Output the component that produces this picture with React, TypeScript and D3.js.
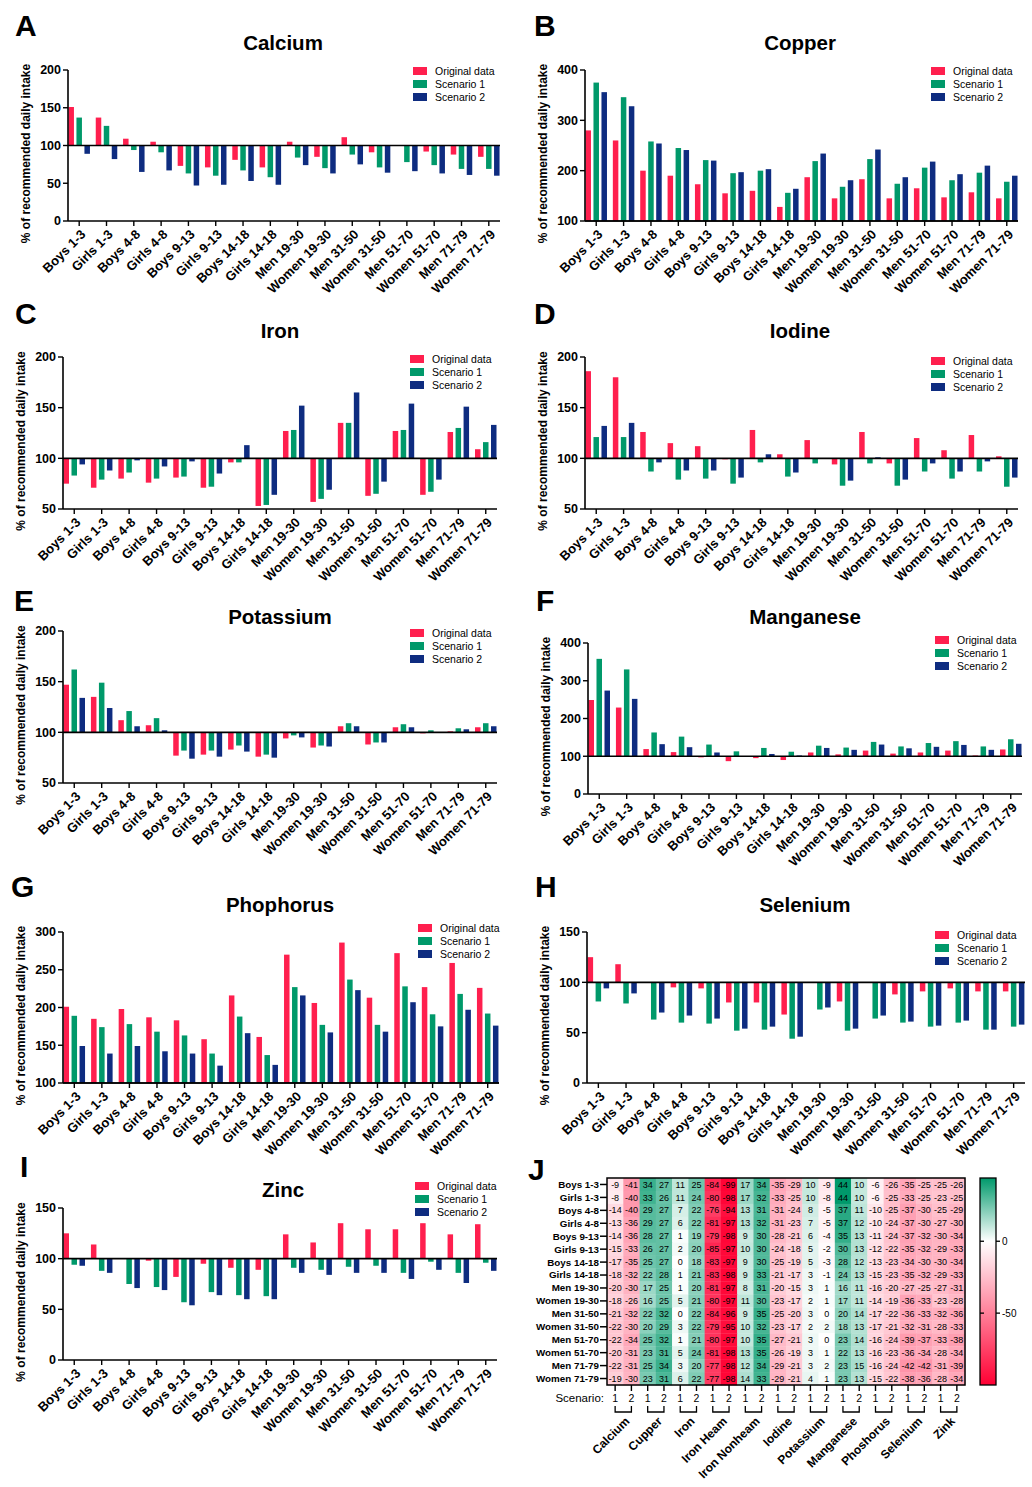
import React from "react";
import * as d3 from "d3";

const groups = [
  "Boys 1-3", "Girls 1-3", "Boys 4-8", "Girls 4-8", "Boys 9-13", "Girls 9-13",
  "Boys 14-18", "Girls 14-18", "Men 19-30", "Women 19-30", "Men 31-50", "Women 31-50",
  "Men 51-70", "Women 51-70", "Men 71-79", "Women 71-79",
];
const seriesNames = ["Original data", "Scenario 1", "Scenario 2"];
const seriesColors = ["#ff1f4e", "#00996a", "#0e2c80"];

const calciumOrig = [151, 137, 109, 105, 73, 71, 81, 71, 105, 85, 111, 91, 100, 92, 88, 85];
const calciumS1 = [137, 126, 94, 91, 63, 60, 67, 58, 84, 70, 88, 71, 78, 74, 69, 69];
const calciumS2 = [89, 82, 65, 67, 47, 48, 53, 48, 74, 63, 75, 64, 66, 63, 61, 60];

const copperOrig = [280, 260, 200, 190, 173, 155, 160, 128, 187, 145, 183, 145, 165, 147, 157, 145];
const copperS1 = [375, 346, 258, 245, 221, 195, 200, 156, 219, 168, 223, 174, 206, 181, 196, 178];
const copperS2 = [356, 328, 254, 241, 220, 197, 203, 164, 234, 181, 242, 187, 218, 193, 210, 190];

const ironOrig = [75, 71, 80, 76, 81, 71, 96, 53, 127, 57, 135, 63, 127, 64, 126, 109];
const ironS1 = [83, 79, 86, 80, 82, 72, 96, 54, 128, 60, 135, 65, 128, 67, 130, 116];
const ironS2 = [94, 88, 98, 92, 97, 85, 113, 64, 152, 69, 165, 77, 154, 79, 151, 133];

const iodineOrig = [186, 180, 126, 115, 112, 99, 128, 104, 118, 94, 126, 95, 120, 108, 123, 102];
const iodineS1 = [121, 121, 87, 79, 80, 75, 96, 82, 95, 73, 95, 73, 87, 80, 87, 72];
const iodineS2 = [132, 135, 96, 88, 88, 81, 104, 86, 100, 78, 101, 79, 95, 87, 97, 81];

const potassiumOrig = [147, 135, 112, 107, 77, 78, 83, 76, 94, 85, 106, 88, 105, 99, 101, 105];
const potassiumS1 = [162, 149, 121, 114, 82, 82, 87, 78, 97, 87, 109, 90, 108, 102, 104, 109];
const potassiumS2 = [134, 124, 106, 102, 74, 76, 81, 75, 95, 86, 106, 90, 105, 100, 103, 106];

const manganeseOrig = [249, 229, 119, 111, 97, 87, 95, 90, 110, 105, 115, 107, 110, 115, 102, 118];
const manganeseS1 = [358, 330, 163, 152, 131, 113, 122, 112, 128, 123, 138, 126, 135, 140, 126, 145];
const manganeseS2 = [274, 252, 132, 124, 110, 98, 106, 102, 122, 117, 131, 121, 125, 130, 117, 133];

const phosphorusOrig = [201, 185, 198, 187, 183, 158, 216, 161, 270, 206, 286, 213, 272, 227, 259, 226];
const phosphorusS1 = [189, 174, 178, 168, 163, 139, 188, 137, 227, 177, 237, 177, 228, 191, 218, 192];
const phosphorusS2 = [149, 139, 149, 142, 139, 123, 166, 124, 216, 167, 223, 168, 207, 175, 197, 176];

const seleniumOrig = [125, 118, 100, 95, 94, 80, 80, 68, 100, 81, 100, 88, 91, 94, 91, 91];
const seleniumS1 = [81, 79, 63, 60, 59, 52, 53, 44, 73, 52, 64, 60, 56, 60, 53, 56];
const seleniumS2 = [94, 89, 70, 67, 64, 54, 56, 46, 75, 54, 67, 61, 57, 62, 53, 58];

const zincOrig = [125, 114, 100, 98, 82, 95, 91, 89, 124, 116, 135, 129, 129, 135, 124, 134];
const zincS1 = [94, 88, 75, 72, 57, 67, 64, 63, 91, 89, 92, 93, 86, 97, 86, 96];
const zincS2 = [93, 86, 71, 69, 54, 64, 60, 60, 86, 84, 86, 86, 80, 89, 76, 88];

// heatmap J: % change vs original, columns = nutrient x scenario (1, 2)
const heatNutrients = [
  "Calcium", "Cupper", "Iron", "Iron Heam", "Iron Nonheam", "Iodine",
  "Potassium", "Manganese", "Phoshorus", "Selenium", "Zink",
];
const heatValues = [
  [-9, -41, 34, 27, 11, 25, -84, -99, 17, 34, -35, -29, 10, -9, 44, 10, -6, -26, -35, -25, -25, -26],
  [-8, -40, 33, 26, 11, 24, -80, -98, 17, 32, -33, -25, 10, -8, 44, 10, -6, -25, -33, -25, -23, -25],
  [-14, -40, 29, 27, 7, 22, -76, -94, 13, 31, -31, -24, 8, -5, 37, 11, -10, -25, -37, -30, -25, -29],
  [-13, -36, 29, 27, 6, 22, -81, -97, 13, 32, -31, -23, 7, -5, 37, 12, -10, -24, -37, -30, -27, -30],
  [-14, -36, 28, 27, 1, 19, -79, -98, 9, 30, -28, -21, 6, -4, 35, 13, -11, -24, -37, -32, -30, -34],
  [-15, -33, 26, 27, 2, 20, -85, -97, 10, 30, -24, -18, 5, -2, 30, 13, -12, -22, -35, -32, -29, -33],
  [-17, -35, 25, 27, 0, 18, -83, -97, 9, 30, -25, -19, 5, -3, 28, 12, -13, -23, -34, -30, -30, -34],
  [-18, -32, 22, 28, 1, 21, -83, -98, 9, 33, -21, -17, 3, -1, 24, 13, -15, -23, -35, -32, -29, -33],
  [-20, -30, 17, 25, 1, 20, -81, -97, 8, 31, -20, -15, 3, 1, 16, 11, -16, -20, -27, -25, -27, -31],
  [-18, -26, 16, 25, 5, 21, -80, -97, 11, 30, -23, -17, 2, 1, 17, 11, -14, -19, -36, -33, -23, -28],
  [-21, -32, 22, 32, 0, 22, -84, -96, 9, 35, -25, -20, 3, 0, 20, 14, -17, -22, -36, -33, -32, -36],
  [-22, -30, 20, 29, 3, 22, -79, -95, 10, 32, -23, -17, 2, 2, 18, 13, -17, -21, -32, -31, -28, -33],
  [-22, -34, 25, 32, 1, 21, -80, -97, 10, 35, -27, -21, 3, 0, 23, 14, -16, -24, -39, -37, -33, -38],
  [-20, -31, 23, 31, 5, 24, -81, -98, 13, 35, -26, -19, 3, 1, 22, 13, -16, -23, -36, -34, -28, -34],
  [-22, -31, 25, 34, 3, 20, -77, -98, 12, 34, -29, -21, 3, 2, 23, 15, -16, -24, -42, -42, -31, -39],
  [-19, -30, 23, 31, 6, 22, -77, -98, 14, 33, -29, -21, 4, 1, 23, 13, -15, -22, -38, -36, -28, -34],
];
const colorTicks = [0, -50];

const FONT = "'Liberation Sans', Arial, Helvetica, sans-serif";

type PanelProps = {
  letter: string;
  letterX: number;
  letterY: number;
  title: string;
  titleX: number;
  titleY: number;
  left: number;
  right: number;
  top: number;
  bottom: number;
  domain: [number, number];
  ticks: number[];
  legendX: number;
  legendY: number;
  series: number[][];
};

function BarPanel(p: PanelProps) {
  const x = d3.scalePoint<string>().domain(groups).range([p.left, p.right]).padding(0.41);
  const y = d3.scaleLinear().domain(p.domain).range([p.bottom, p.top]);
  const bw = 5.5;
  const step = 8;
  const base = y(100);
  return (
    <g>
      <text x={p.letterX} y={p.letterY} fontSize={30} fontWeight="bold" fontFamily={FONT}>{p.letter}</text>
      <text x={p.titleX} y={p.titleY} fontSize={20.5} fontWeight="bold" textAnchor="middle" fontFamily={FONT}>{p.title}</text>
      {p.series.map((vals, si) => (
        <g key={si} fill={seriesColors[si]}>
          {vals.map((v, i) => {
            const cx = x(groups[i])!;
            const bx = cx - bw / 2 + (si - 1) * step;
            const yv = y(v);
            return <rect key={i} x={bx} y={Math.min(yv, base)} width={bw} height={Math.abs(yv - base)} />;
          })}
        </g>
      ))}
      {/* reference line at 100 */}
      <line x1={p.left} x2={p.right} y1={base} y2={base} stroke="#000" strokeWidth={1.6} />
      {/* axes */}
      <line x1={p.left} x2={p.left} y1={p.top} y2={p.bottom} stroke="#000" strokeWidth={1.6} />
      <line x1={p.left} x2={p.right} y1={p.bottom} y2={p.bottom} stroke="#000" strokeWidth={1.6} />
      {p.ticks.map((t) => (
        <g key={t}>
          <line x1={p.left - 5} x2={p.left} y1={y(t)} y2={y(t)} stroke="#000" strokeWidth={1.4} />
          <text x={p.left - 7} y={y(t)} dy="0.35em" textAnchor="end" fontSize={12.5} fontWeight="bold" fontFamily={FONT}>{t}</text>
        </g>
      ))}
      {groups.map((g) => {
        const cx = x(g)!;
        return (
          <g key={g}>
            <line x1={cx} x2={cx} y1={p.bottom} y2={p.bottom + 5} stroke="#000" strokeWidth={1.4} />
            <text transform={`translate(${cx + 4},${p.bottom + 11}) rotate(-45)`} textAnchor="end" dy="0.35em"
              fontSize={13} fontWeight="bold" fontFamily={FONT}>{g}</text>
          </g>
        );
      })}
      <text transform={`translate(${p.left - 38},${(p.top + p.bottom) / 2 + 8}) rotate(-90)`} textAnchor="middle"
        fontSize={12} fontWeight="bold" fontFamily={FONT}>% of recommended daily intake</text>
      {seriesNames.map((n, i) => (
        <g key={n}>
          <rect x={p.legendX} y={p.legendY + i * 13 - 4} width={14} height={8} fill={seriesColors[i]} />
          <text x={p.legendX + 22} y={p.legendY + i * 13} dy="0.35em" fontSize={10.5} fontFamily={FONT}>{n}</text>
        </g>
      ))}
    </g>
  );
}

function Heatmap() {
  const left = 607, right = 965, top = 1178, bottom = 1385;
  const cols = d3.range(heatNutrients.length * 2);
  const x = d3.scaleBand<number>().domain(cols).range([left, right]);
  const y = d3.scaleBand<string>().domain(groups).range([top, bottom]);
  const color = d3.scaleLinear<string>().domain([-100, 0, 44]).range(["#ff0033", "#ffffff", "#00996b"]);
  const cbX = 980, cbW = 16;
  const cy = d3.scaleLinear().domain([-100, 44]).range([bottom, top]);
  const stops = [-100, -75, -50, -25, 0, 11, 22, 33, 44];
  return (
    <g fontFamily={FONT}>
      <text x={528} y={1180} fontSize={30} fontWeight="bold">J</text>
      {heatValues.map((row, ri) => (
        <g key={ri}>
          {row.map((v, ci) => (
            <g key={ci}>
              <rect x={x(ci)} y={y(groups[ri])} width={x.bandwidth() + 0.3} height={y.bandwidth() + 0.3} fill={color(v)} />
              <text x={x(ci)! + x.bandwidth() / 2} y={y(groups[ri])! + y.bandwidth() / 2} dy="0.35em"
                textAnchor="middle" fontSize={9}>{v}</text>
            </g>
          ))}
          <line x1={left - 7} x2={left} y1={y(groups[ri])! + y.bandwidth() / 2} y2={y(groups[ri])! + y.bandwidth() / 2} stroke="#000" strokeWidth={1.5} />
          <text x={left - 8} y={y(groups[ri])! + y.bandwidth() / 2} dy="0.35em" textAnchor="end" fontSize={9.8} fontWeight="bold">{groups[ri]}</text>
        </g>
      ))}
      <rect x={left} y={top} width={right - left} height={bottom - top} fill="none" stroke="#000" strokeWidth={1.5} />
      {cols.map((c) => {
        const cx = x(c)! + x.bandwidth() / 2;
        return (
          <g key={c}>
            <line x1={cx} x2={cx} y1={bottom} y2={bottom + 6} stroke="#000" strokeWidth={1.4} />
            <text x={cx} y={bottom + 13} dy="0.35em" textAnchor="middle" fontSize={10.5}>{(c % 2) + 1}</text>
          </g>
        );
      })}
      <text x={left - 3} y={bottom + 13} dy="0.35em" textAnchor="end" fontSize={11.5}>Scenario:</text>
      {heatNutrients.map((n, i) => {
        const x1 = x(i * 2)! + x.bandwidth() / 2;
        const x2 = x(i * 2 + 1)! + x.bandwidth() / 2;
        const mid = (x1 + x2) / 2;
        return (
          <g key={n}>
            <path d={`M${x1},${bottom + 21}V${bottom + 27}H${x2}V${bottom + 21}`} fill="none" stroke="#000" strokeWidth={1.3} />
            <text transform={`translate(${mid + 4},${bottom + 34}) rotate(-45)`} textAnchor="end" dy="0.35em"
              fontSize={12} fontWeight={600}>{n}</text>
          </g>
        );
      })}
      <defs>
        <linearGradient id="cbar" x1="0" y1="1" x2="0" y2="0">
          {stops.map((s) => (
            <stop key={s} offset={(s + 100) / 144} stopColor={color(s)} />
          ))}
        </linearGradient>
      </defs>
      <rect x={cbX} y={top} width={cbW} height={bottom - top} fill="url(#cbar)" stroke="#000" strokeWidth={1.3} />
      {colorTicks.map((t) => (
        <g key={t}>
          <line x1={cbX + cbW} x2={cbX + cbW + 4} y1={cy(t)} y2={cy(t)} stroke="#000" strokeWidth={1.3} />
          <line x1={cbX} x2={cbX + 4} y1={cy(t)} y2={cy(t)} stroke="#000" strokeWidth={1.3} />
          <text x={cbX + cbW + 6} y={cy(t)} dy="0.35em" fontSize={10}>{t}</text>
        </g>
      ))}
    </g>
  );
}

export default function App() {
  return (
    <svg width={1032} height={1487} style={{ position: "absolute", left: 0, top: 0, background: "#fff" }}>
      <rect width={1032} height={1487} fill="#fff" />
      <BarPanel letter="A" letterX={15} letterY={36} title="Calcium" titleX={283} titleY={50}
        left={68} right={500} top={70} bottom={221} domain={[0, 200]} ticks={[0, 50, 100, 150, 200]}
        legendX={413} legendY={71} series={[calciumOrig, calciumS1, calciumS2]} />
      <BarPanel letter="B" letterX={534} letterY={36} title="Copper" titleX={800} titleY={50}
        left={585} right={1018} top={70} bottom={221} domain={[100, 400]} ticks={[100, 200, 300, 400]}
        legendX={931} legendY={71} series={[copperOrig, copperS1, copperS2]} />
      <BarPanel letter="C" letterX={15} letterY={324} title="Iron" titleX={280} titleY={338}
        left={63} right={497} top={357} bottom={509} domain={[50, 200]} ticks={[50, 100, 150, 200]}
        legendX={410} legendY={359} series={[ironOrig, ironS1, ironS2]} />
      <BarPanel letter="D" letterX={534} letterY={324} title="Iodine" titleX={800} titleY={338}
        left={585} right={1018} top={357} bottom={509} domain={[50, 200]} ticks={[50, 100, 150, 200]}
        legendX={931} legendY={361} series={[iodineOrig, iodineS1, iodineS2]} />
      <BarPanel letter="E" letterX={14} letterY={611} title="Potassium" titleX={280} titleY={624}
        left={63} right={497} top={631} bottom={783} domain={[50, 200]} ticks={[50, 100, 150, 200]}
        legendX={410} legendY={633} series={[potassiumOrig, potassiumS1, potassiumS2]} />
      <BarPanel letter="F" letterX={536} letterY={611} title="Manganese" titleX={805} titleY={624}
        left={588} right={1022} top={643} bottom={794} domain={[0, 400]} ticks={[0, 100, 200, 300, 400]}
        legendX={935} legendY={640} series={[manganeseOrig, manganeseS1, manganeseS2]} />
      <BarPanel letter="G" letterX={11} letterY={897} title="Phophorus" titleX={280} titleY={912}
        left={63} right={499} top={932} bottom={1083} domain={[100, 300]} ticks={[100, 150, 200, 250, 300]}
        legendX={418} legendY={928} series={[phosphorusOrig, phosphorusS1, phosphorusS2]} />
      <BarPanel letter="H" letterX={535} letterY={897} title="Selenium" titleX={805} titleY={912}
        left={587} right={1025} top={932} bottom={1083} domain={[0, 150]} ticks={[0, 50, 100, 150]}
        legendX={935} legendY={935} series={[seleniumOrig, seleniumS1, seleniumS2]} />
      <BarPanel letter="I" letterX={20} letterY={1177} title="Zinc" titleX={283} titleY={1197}
        left={63} right={497} top={1208} bottom={1360} domain={[0, 150]} ticks={[0, 50, 100, 150]}
        legendX={415} legendY={1186} series={[zincOrig, zincS1, zincS2]} />
      <Heatmap />
    </svg>
  );
}
